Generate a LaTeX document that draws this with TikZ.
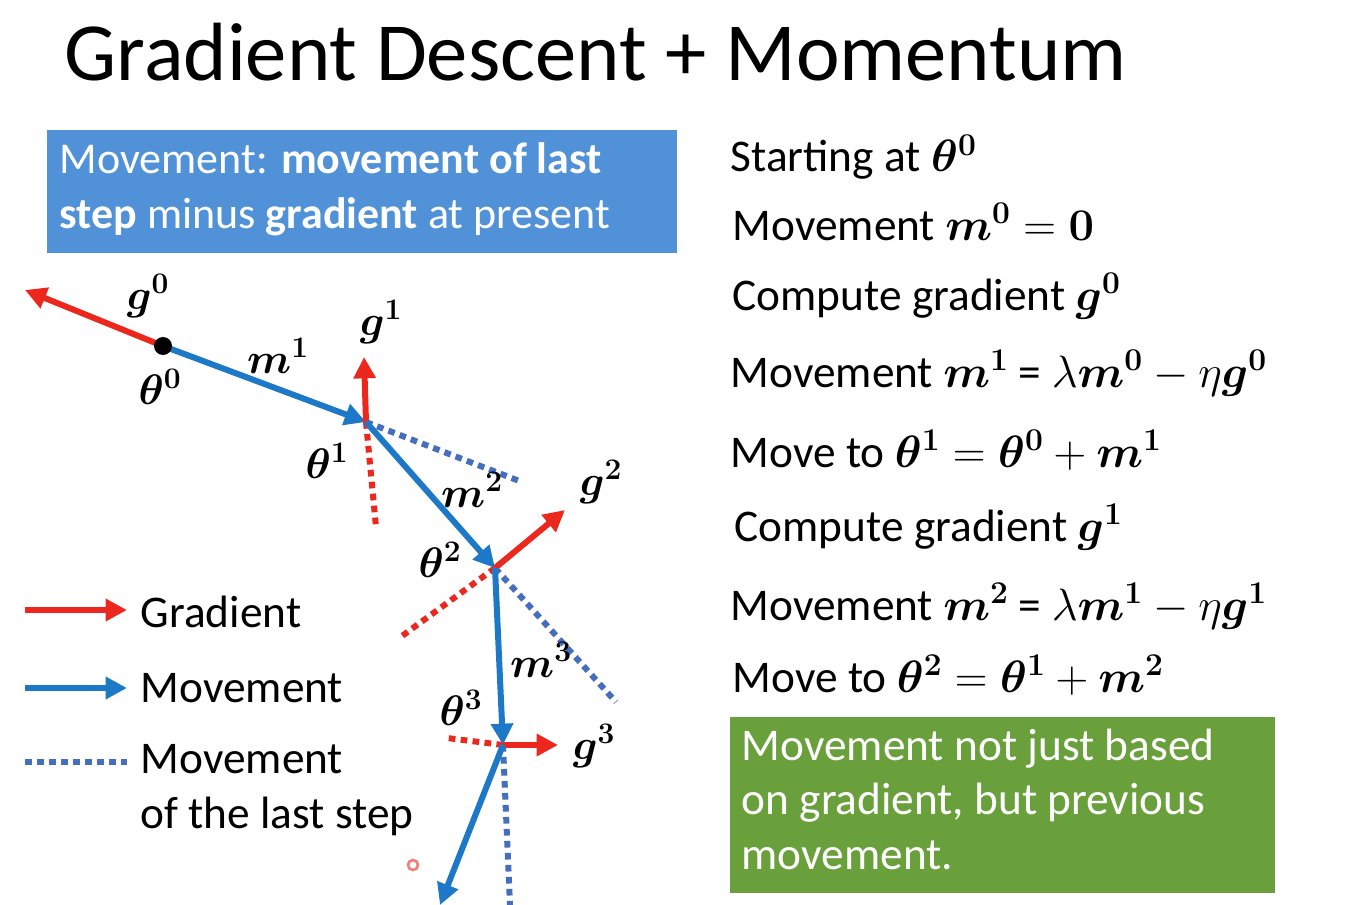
\RequirePackage{fix-cm}
\documentclass[tikz,border=0pt]{standalone}
\usepackage{fontspec}
\usepackage{amsmath,bm}
\setmainfont{Carlito}
\usetikzlibrary{arrows.meta}
\definecolor{gred}{RGB}{236,40,30}
\definecolor{mblue}{RGB}{30,120,200}
\definecolor{dblue}{RGB}{70,110,190}
\definecolor{boxblue}{RGB}{80,145,215}
\definecolor{boxgreen}{RGB}{105,160,60}
\tikzset{
 grad/.style={gred,line width=4.5pt,-{Triangle[length=16pt,width=16pt]}},
 mov/.style={mblue,line width=4.5pt,-{Triangle[length=16pt,width=16pt]}},
 ngrad/.style={gred,line width=4.5pt,dash pattern=on 5pt off 4pt},
 last/.style={dblue,line width=4.5pt,dash pattern=on 5pt off 4pt},
 lbl/.style={font=\fontsize{32}{36}\selectfont},
 txt/.style={font=\fontsize{34}{38}\selectfont,anchor=west},
}
\begin{document}
\begin{tikzpicture}[x=0.75pt,y=-0.75pt]
\useasboundingbox (0,0) rectangle (1345,905);
\fill[white] (0,0) rectangle (1345,905);
\node[anchor=west,font=\fontsize{62}{66}\selectfont] (title) at (60,52) {Gradient Descent + Momentum};
% blue box
\node[draw=none,fill=boxblue,minimum width=630*0.75pt,minimum height=123*0.75pt,anchor=north west,inner sep=0pt] (bbox) at (47,130) {};
\node[white,anchor=north west,align=left,font=\fontsize{33}{41}\selectfont] (btext) at (55,138) {Movement: \textbf{movement of last}\\\textbf{step} minus \textbf{gradient} at present};
% points
\coordinate (t0) at (163,346);
\coordinate (t1) at (366,422);
\coordinate (t2) at (495,568);
\coordinate (t3) at (503,745);
\coordinate (g0e) at (25,290);
\coordinate (g1e) at (364,357);
\coordinate (n1e) at (376,527);
\coordinate (l1e) at (522,482);
\coordinate (g2e) at (565,510);
\coordinate (n2e) at (402,636);
\coordinate (l2e) at (616,702);
\coordinate (g3e) at (558,745);
\coordinate (n3e) at (447,738);
\coordinate (l3e) at (510,905);
\coordinate (m4e) at (440,905);
\draw[ngrad] (t1) -- (n1e);
\draw[last] (t1) -- (l1e);
\draw[ngrad] (t2) -- (n2e);
\draw[last] (t2) -- (l2e);
\draw[ngrad] (t3) -- (n3e);
\draw[last] (t3) -- (l3e);
\draw[grad] (t0) -- (g0e);
\draw[mov] (t0) -- (t1);
\draw[grad] (t1) -- (g1e);
\draw[mov] (t1) -- (t2);
\draw[grad] (t2) -- (g2e);
\draw[mov] (t2) -- (t3);
\draw[grad] (t3) -- (g3e);
\draw[mov] (t3) -- (m4e);
\fill (t0) circle (9);
\node[lbl] (lg0) at (148,296) {$\bm{g^0}$};
\node[lbl] (lm1) at (278,356) {$\bm{m^1}$};
\node[lbl] (lt0) at (160,387) {$\bm{\theta^0}$};
\node[lbl] (lg1) at (381,322) {$\bm{g^1}$};
\node[lbl] (lt1) at (327,461) {$\bm{\theta^1}$};
\node[lbl] (lm2) at (472,490) {$\bm{m^2}$};
\node[lbl] (lg2) at (601,482) {$\bm{g^2}$};
\node[lbl] (lt2) at (440,560) {$\bm{\theta^2}$};
\node[lbl] (lm3) at (541,660) {$\bm{m^3}$};
\node[lbl] (lt3) at (461,708) {$\bm{\theta^3}$};
\node[lbl] (lg3) at (594,746) {$\bm{g^3}$};
% legend
\coordinate (a1) at (25,610); \coordinate (a2) at (127,610);
\coordinate (b1) at (25,688); \coordinate (b2) at (127,688);
\coordinate (c1) at (25,762); \coordinate (c2) at (127,762);
\draw[grad] (a1) -- (a2);
\draw[mov] (b1) -- (b2);
\draw[last] (c1) -- (c2);
\node[txt] (lgr) at (136,612) {Gradient};
\node[txt] (lmv) at (136,688) {Movement};
\node[txt,align=left,anchor=north west,font=\fontsize{34}{41}\selectfont] (lls) at (136,740) {Movement\\of the last step};
\draw[gred!60,line width=2pt] (413,865) circle (5);
% right column
\node[txt] (r1) at (726,157) {Starting at $\bm{\theta^0}$};
\node[txt] (r2) at (728,222) {Movement $\bm{m^0}=\bm{0}$};
\node[txt] (r3) at (728,296) {Compute gradient $\bm{g^0}$};
\node[txt] (r4) at (726,373) {Movement $\bm{m^1}$ = $\lambda\bm{m^0}-\eta\bm{g^0}$};
\node[txt] (r5) at (726,450) {Move to $\bm{\theta^1}=\bm{\theta^0}+\bm{m^1}$};
\node[txt] (r6) at (730,527) {Compute gradient $\bm{g^1}$};
\node[txt] (r7) at (726,606) {Movement $\bm{m^2}$ = $\lambda\bm{m^1}-\eta\bm{g^1}$};
\node[txt] (r8) at (728,675) {Move to $\bm{\theta^2}=\bm{\theta^1}+\bm{m^2}$};
% green box
\node[fill=boxgreen,minimum width=545*0.75pt,minimum height=176*0.75pt,anchor=north west,inner sep=0pt] (gbox) at (730,717) {};
\node[white,anchor=north west,align=left,font=\fontsize{34}{41}\selectfont] (gtext) at (737,724) {Movement not just based\\on gradient, but previous\\movement.};
\end{tikzpicture}
\end{document}
